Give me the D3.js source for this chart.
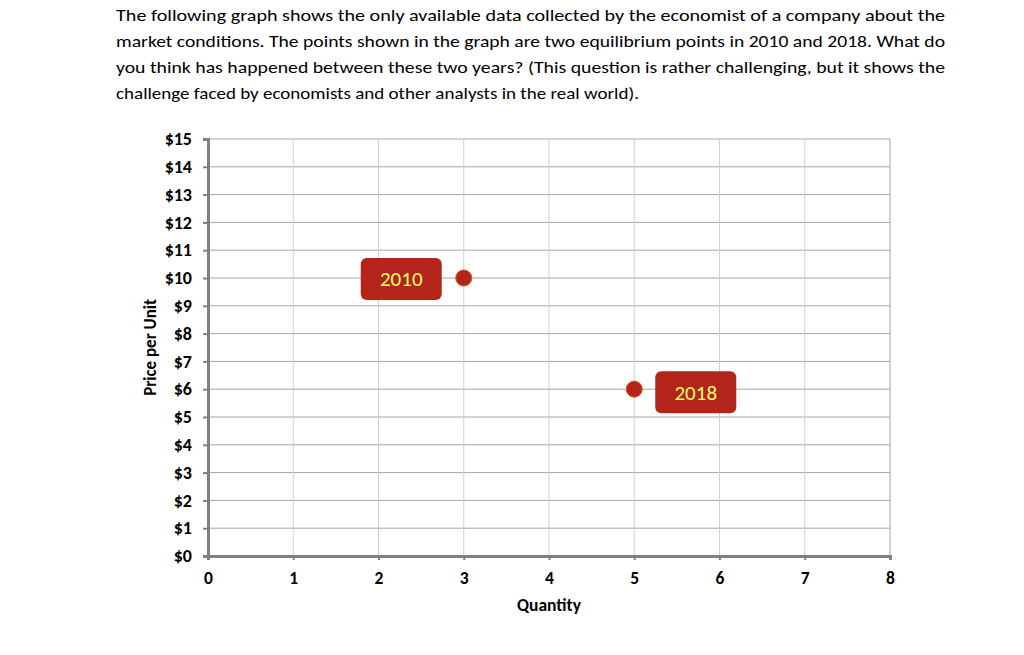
<!DOCTYPE html>
<html>
<head>
<meta charset="utf-8">
<script src="https://cdn.jsdelivr.net/npm/d3@7"></script>
<style>
  body { margin: 0; background: #fff; }
  svg { display: block; }
</style>
</head>
<body>
<svg id="chart" width="1024" height="655"></svg>
<script>
// question text above the chart
const questionLines = [
  'The following graph shows the only available data collected by the economist of a company about the',
  'market conditions. The points shown in the graph are two equilibrium points in 2010 and 2018. What do',
  'you think has happened between these two years? (This question is rather challenging, but it shows the',
  'challenge faced by economists and other analysts in the real world).',
];

// the two equilibrium points
const years = ['2010', '2018'];
const quantity = [3, 5];
const price = [10, 6];

// axis ticks
const xTicks = [0, 1, 2, 3, 4, 5, 6, 7, 8];
const yTicks = d3.range(0, 16);

const svg = d3.select('svg#chart');
const font = 'Carlito, Calibri, "Liberation Sans Narrow", "Open Sans", sans-serif';

const plotLeft = 208;
const plotRight = 890;
const plotTop = 139;
const plotBottom = 556;

// question text, first three lines are justified
svg.append('g')
  .selectAll('text')
  .data(questionLines)
  .enter()
  .append('text')
  .text((d) => d)
  .attr('x', 116)
  .attr('y', (d, i) => 21 + i * 26)
  .attr('font-family', font)
  .attr('font-size', '17px')
  .attr('fill', '#000')
  .attr('textLength', (d, i) => (i < 3 ? 829 : 523))
  .attr('lengthAdjust', 'spacingAndGlyphs');

const xScale = d3.scaleLinear()
  .domain([0, 8])
  .range([plotLeft, plotRight]);

const yScale = d3.scaleLinear()
  .domain([0, 15])
  .range([plotBottom, plotTop]);

// gridlines
svg.append('g')
  .selectAll('line')
  .data(yTicks.slice(1))
  .enter()
  .append('line')
  .attr('x1', plotLeft)
  .attr('x2', plotRight)
  .attr('y1', (d) => yScale(d))
  .attr('y2', (d) => yScale(d))
  .attr('stroke', '#a6a6a6')
  .attr('stroke-width', 1);

svg.append('g')
  .selectAll('line')
  .data(xTicks.slice(1))
  .enter()
  .append('line')
  .attr('x1', (d) => xScale(d))
  .attr('x2', (d) => xScale(d))
  .attr('y1', plotTop)
  .attr('y2', plotBottom)
  .attr('stroke', (d) => (d === 8 ? '#a6a6a6' : '#d0d0d0'))
  .attr('stroke-width', 1);

// y axis
const yAxis = svg.append('g')
  .attr('transform', `translate(${plotLeft},0)`)
  .call(d3.axisLeft(yScale).tickValues(yTicks).tickSize(5).tickPadding(11)
    .tickFormat((d) => `$${d}`));
yAxis.select('.domain').attr('stroke', '#808080').attr('stroke-width', 3);
yAxis.selectAll('.tick line').attr('stroke', '#808080').attr('stroke-width', 2);
yAxis.selectAll('.tick text')
  .attr('font-family', font)
  .attr('font-size', '18px')
  .attr('font-weight', 'bold')
  .attr('fill', '#000');

// x axis
const xAxis = svg.append('g')
  .attr('transform', `translate(0,${plotBottom})`)
  .call(d3.axisBottom(xScale).tickValues(xTicks).tickSize(4).tickPadding(12));
xAxis.select('.domain').attr('stroke', '#808080').attr('stroke-width', 3);
xAxis.selectAll('.tick line').attr('stroke', '#808080').attr('stroke-width', 2);
xAxis.selectAll('.tick text')
  .attr('font-family', font)
  .attr('font-size', '17.5px')
  .attr('font-weight', 'bold')
  .attr('fill', '#000');

// axis titles
svg.append('text')
  .text('Quantity')
  .attr('x', (plotLeft + plotRight) / 2)
  .attr('y', 611)
  .attr('text-anchor', 'middle')
  .attr('font-family', font)
  .attr('font-size', '17.5px')
  .attr('font-weight', 'bold');

svg.append('text')
  .text('Price per Unit')
  .attr('transform', `translate(156,${(plotTop + plotBottom) / 2}) rotate(-90)`)
  .attr('text-anchor', 'middle')
  .attr('font-family', font)
  .attr('font-size', '17px')
  .attr('font-weight', 'bold');

// points
const points = years.map((y, i) => ({ year: y, q: quantity[i], p: price[i] }));

svg.append('g')
  .selectAll('circle')
  .data(points)
  .enter()
  .append('circle')
  .attr('cx', (d) => xScale(d.q))
  .attr('cy', (d) => yScale(d.p))
  .attr('r', 8)
  .attr('fill', '#b3241a')
  .attr('stroke', '#d9541e')
  .attr('stroke-width', 1);

// year labels: 2010 sits left of its point, 2018 right of it
const boxW = 81;
const boxH = 42;
const labels = svg.append('g')
  .selectAll('g')
  .data(points)
  .enter()
  .append('g')
  .attr('transform', (d, i) => {
    const bx = i === 0 ? xScale(d.q) - 22 - boxW : xScale(d.q) + 21;
    const by = yScale(d.p) - boxH / 2 + (i === 0 ? 1 : 3);
    return `translate(${bx},${by})`;
  });

labels.append('rect')
  .attr('width', boxW)
  .attr('height', boxH)
  .attr('rx', 6)
  .attr('fill', '#b3241a');

labels.append('text')
  .text((d) => d.year)
  .attr('x', boxW / 2)
  .attr('y', boxH / 2)
  .attr('dy', '.35em')
  .attr('text-anchor', 'middle')
  .attr('font-family', font)
  .attr('font-size', '21px')
  .attr('fill', '#ffff66');
</script>
</body>
</html>
